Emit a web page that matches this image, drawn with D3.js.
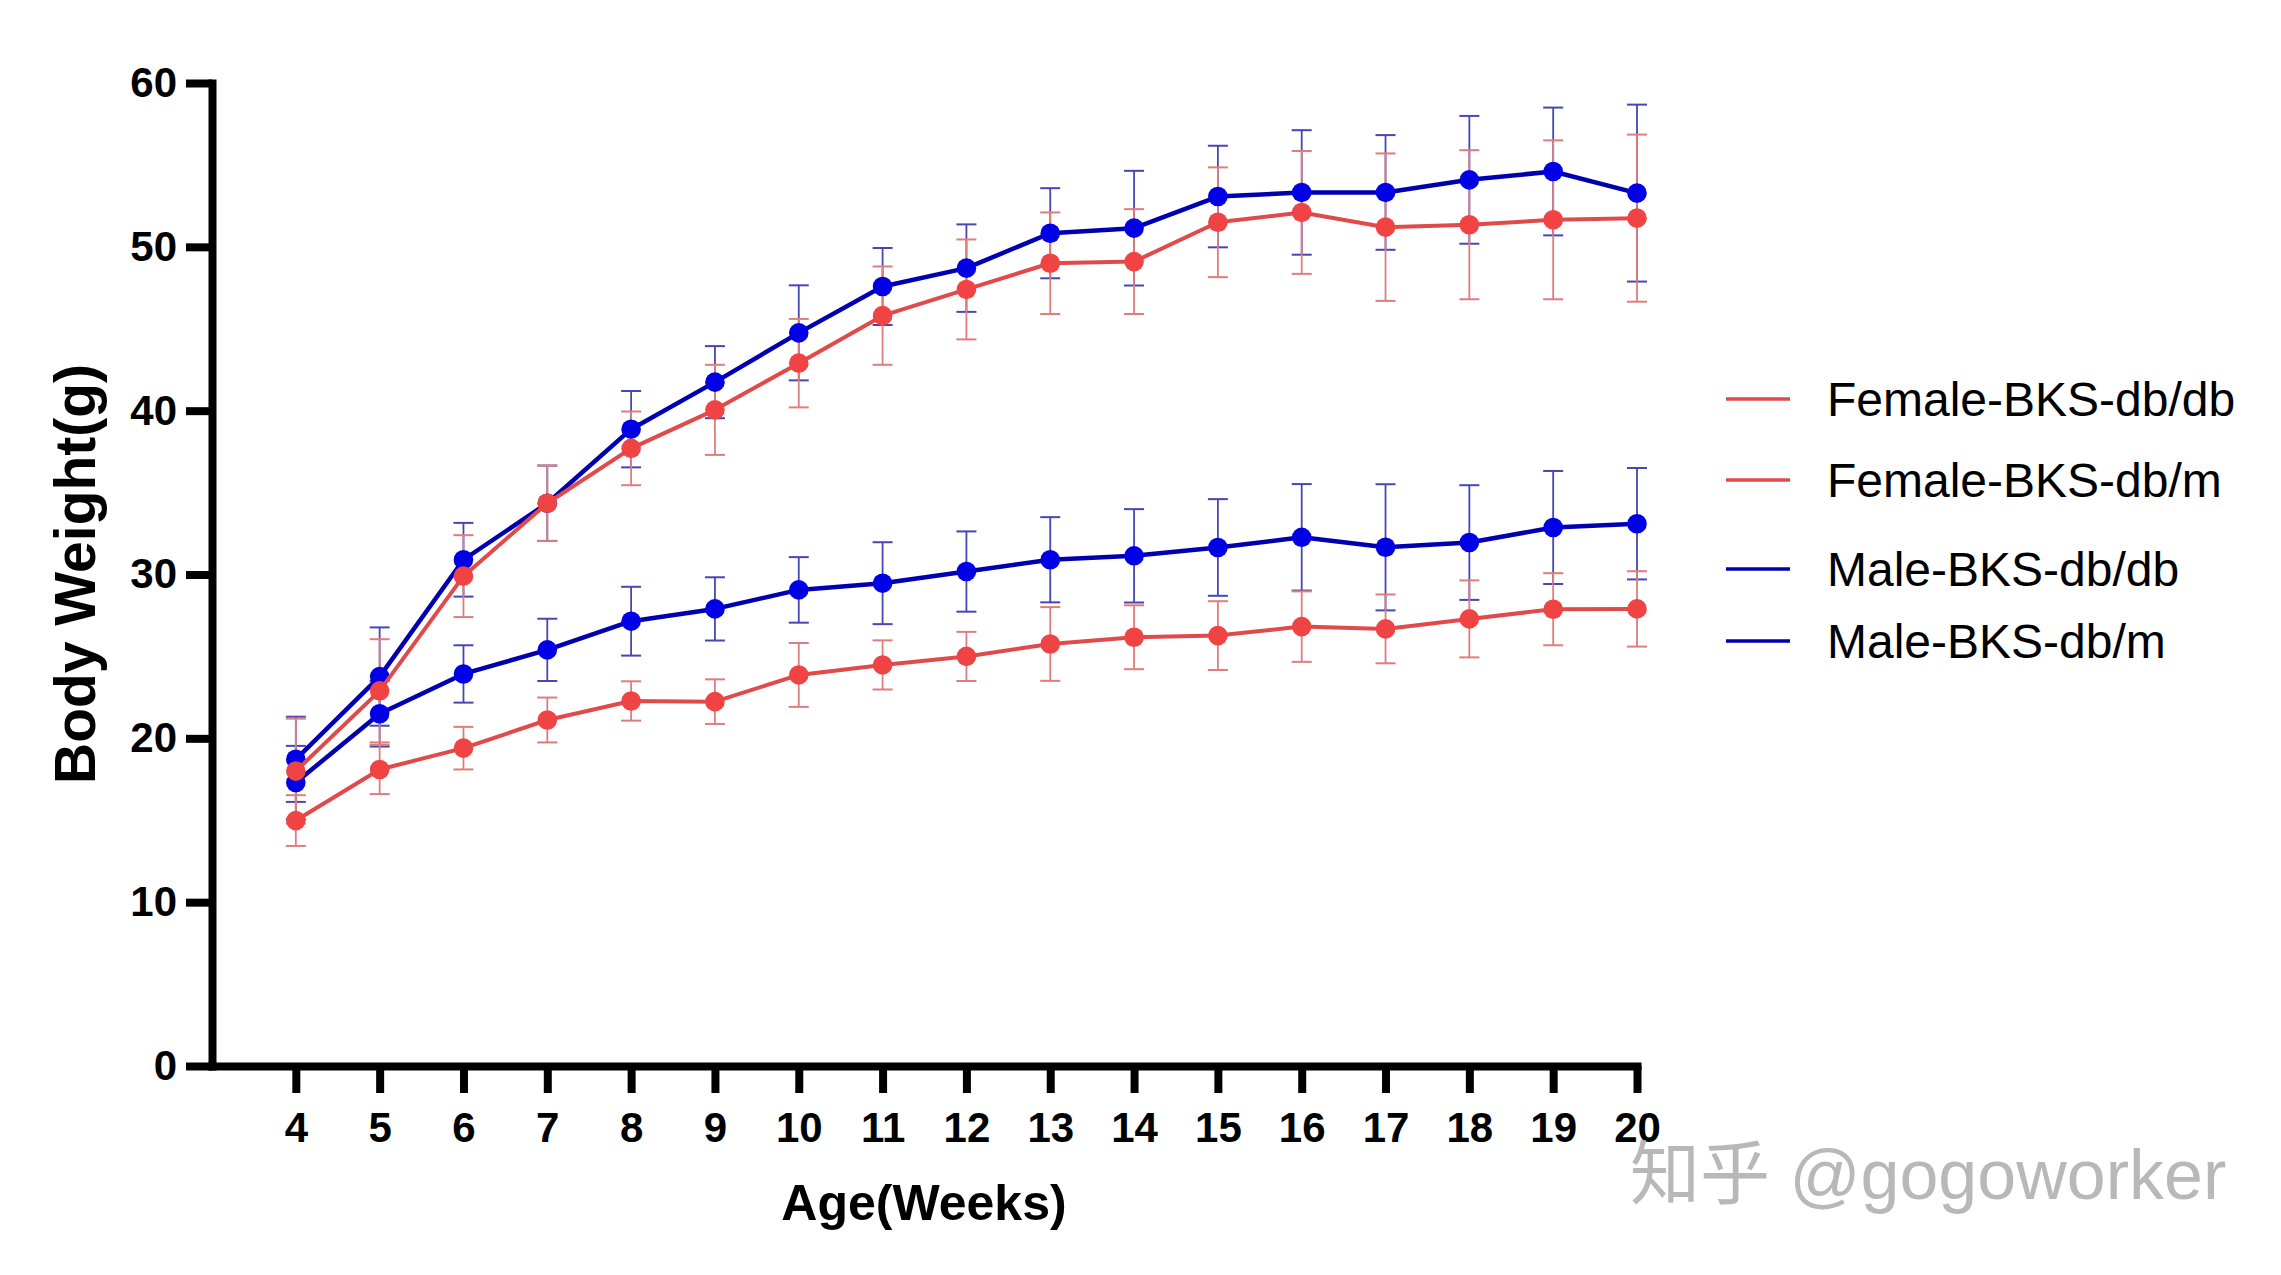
<!DOCTYPE html>
<html>
<head>
  <meta charset="UTF-8">
  <title>Body Weight</title>
  <script src="https://cdnjs.cloudflare.com/ajax/libs/d3/7.8.5/d3.min.js"></script>
  <style type="text/css">
    body { margin: 0; background: #fff; }
    svg { display: block; }
  </style>
</head>
<body>
<script type="text/javascript">

  // DATA
  var weeks = [4, 5, 6, 7, 8, 9, 10, 11, 12, 13, 14, 15, 16, 17, 18, 19, 20];
  var yTicks = [0, 10, 20, 30, 40, 50, 60];

  var seriesNames = ["Female-BKS-db/db", "Female-BKS-db/m", "Male-BKS-db/db", "Male-BKS-db/m"];

  var femaleDbDb = [18.0, 22.9, 29.9, 34.35, 37.7, 40.05, 42.9, 45.8, 47.4, 49.0, 49.1, 51.5, 52.1, 51.2, 51.35, 51.65, 51.75];
  var femaleDbDbSd = [3.2, 3.15, 2.5, 2.3, 2.25, 2.75, 2.7, 3.0, 3.05, 3.1, 3.2, 3.35, 3.75, 4.5, 4.55, 4.85, 5.1];

  var femaleDbM = [14.98, 18.1, 19.4, 21.12, 22.28, 22.24, 23.87, 24.48, 25.0, 25.76, 26.17, 26.27, 26.82, 26.68, 27.29, 27.88, 27.9];
  var femaleDbMSd = [1.55, 1.5, 1.3, 1.37, 1.2, 1.36, 1.95, 1.5, 1.5, 2.25, 1.95, 2.1, 2.15, 2.1, 2.35, 2.2, 2.3];

  var maleDbDb = [18.72, 23.77, 30.9, 34.35, 38.87, 41.74, 44.75, 47.58, 48.7, 50.83, 51.14, 53.07, 53.32, 53.32, 54.09, 54.6, 53.28];
  var maleDbDbSd = [2.6, 3.0, 2.25, 2.3, 2.33, 2.2, 2.9, 2.35, 2.67, 2.75, 3.5, 3.1, 3.8, 3.5, 3.9, 3.9, 5.4];

  var maleDbM = [17.3, 21.5, 23.93, 25.4, 27.15, 27.9, 29.06, 29.47, 30.18, 30.9, 31.14, 31.65, 32.27, 31.66, 31.95, 32.87, 33.1];
  var maleDbMSd = [2.24, 2.0, 1.75, 1.9, 2.1, 1.93, 2.0, 2.5, 2.45, 2.6, 2.85, 2.95, 3.25, 3.85, 3.5, 3.45, 3.4];

  // styles
  var RED_LINE = "#e04a4a", RED_DOT = "#f04444", RED_ERR = "#e07c7c";
  var BLUE_LINE = "#0000b0", BLUE_DOT = "#0000e6", BLUE_ERR = "#4646b4";
  var FONT = "'Liberation Sans', Arial, Helvetica, sans-serif";

  var series = [
    {name: seriesNames[2], mean: maleDbDb, sd: maleDbDbSd, line: BLUE_LINE, dot: BLUE_DOT, err: BLUE_ERR, lw: 4.5},
    {name: seriesNames[3], mean: maleDbM, sd: maleDbMSd, line: BLUE_LINE, dot: BLUE_DOT, err: BLUE_ERR, lw: 4.5},
    {name: seriesNames[0], mean: femaleDbDb, sd: femaleDbDbSd, line: RED_LINE, dot: RED_DOT, err: RED_ERR, lw: 4},
    {name: seriesNames[1], mean: femaleDbM, sd: femaleDbMSd, line: RED_LINE, dot: RED_DOT, err: RED_ERR, lw: 4}
  ];

  var W = 2281, H = 1275;

  var svg = d3.select("body").append("svg")
      .attr("width", W)
      .attr("height", H);

  //scales
  var x = d3.scaleLinear().domain([3, 20]).range([212, 1637]);
  var y = d3.scaleLinear().domain([0, 60]).range([1066, 83]);

  //error bars first, behind everything
  series.forEach(function (s) {
    var g = svg.append("g").attr("class", "err");
    weeks.forEach(function (w, i) {
      var cx = x(w), lo = y(s.mean[i] - s.sd[i]), hi = y(s.mean[i] + s.sd[i]);
      g.append("line").attr("x1", cx).attr("x2", cx).attr("y1", lo).attr("y2", hi)
          .attr("stroke", s.err).attr("stroke-width", 1.8);
      [lo, hi].forEach(function (yy) {
        g.append("line").attr("x1", cx - 10).attr("x2", cx + 10).attr("y1", yy).attr("y2", yy)
            .attr("stroke", s.err).attr("stroke-width", 2);
      });
    });
  });

  //lines + points
  var line = d3.line()
      .x(function (d) { return x(d[0]); })
      .y(function (d) { return y(d[1]); });

  series.forEach(function (s) {
    var pts = weeks.map(function (w, i) { return [w, s.mean[i]]; });
    svg.append("path")
        .attr("d", line(pts))
        .attr("fill", "none")
        .attr("stroke", s.line)
        .attr("stroke-width", s.lw)
        .attr("stroke-linejoin", "round");
    svg.append("g").selectAll("circle")
        .data(pts)
        .enter().append("circle")
        .attr("cx", function (d) { return x(d[0]); })
        .attr("cy", function (d) { return y(d[1]); })
        .attr("r", 9.8)
        .attr("fill", s.dot);
  });

  //axes
  var xAxis = d3.axisBottom(x).tickValues(weeks).tickSize(27).tickSizeOuter(0).tickPadding(19);
  var yAxis = d3.axisLeft(y).tickValues(yTicks).tickSize(26).tickSizeOuter(0).tickPadding(9);

  var gx = svg.append("g")
      .attr("transform", "translate(0," + y(0) + ")")
      .call(xAxis);
  var gy = svg.append("g")
      .attr("transform", "translate(" + x(3) + ",0)")
      .call(yAxis);

  [gx, gy].forEach(function (g) {
    g.select(".domain").attr("stroke", "#000").attr("stroke-width", 8).attr("stroke-linecap", "square");
    g.selectAll(".tick line").attr("stroke", "#000").attr("stroke-width", 8);
    g.selectAll("text")
        .attr("fill", "#000")
        .style("font-family", FONT)
        .style("font-weight", "bold")
        .style("font-size", "42px");
  });

  //axis titles
  svg.append("text")
      .attr("x", 924)
      .attr("y", 1220)
      .attr("text-anchor", "middle")
      .style("font-family", FONT)
      .style("font-weight", "bold")
      .style("font-size", "50px")
      .text("Age(Weeks)");

  svg.append("text")
      .attr("transform", "translate(95,574) rotate(-90)")
      .attr("text-anchor", "middle")
      .style("font-family", FONT)
      .style("font-weight", "bold")
      .style("font-size", "57px")
      .text("Body Weight(g)");

  //legend (lines only)
  var legendY = [399, 480, 569, 641];
  var legendColor = [RED_LINE, RED_LINE, BLUE_LINE, BLUE_LINE];
  seriesNames.forEach(function (name, i) {
    svg.append("line")
        .attr("x1", 1726).attr("x2", 1790)
        .attr("y1", legendY[i]).attr("y2", legendY[i])
        .attr("stroke", legendColor[i])
        .attr("stroke-width", 3.5);
    svg.append("text")
        .attr("x", 1827)
        .attr("y", legendY[i] + 17)
        .style("font-family", FONT)
        .style("font-size", "48px")
        .attr("fill", "#000")
        .text(name);
  });

  //watermark
  svg.append("text")
      .attr("x", 1630)
      .attr("y", 1199)
      .style("font-family", "'Liberation Sans', 'Noto Sans CJK SC', sans-serif")
      .style("font-size", "70px")
      .attr("fill", "#b8b8b8")
      .text("知乎 @gogoworker");

</script>
</body>
</html>
